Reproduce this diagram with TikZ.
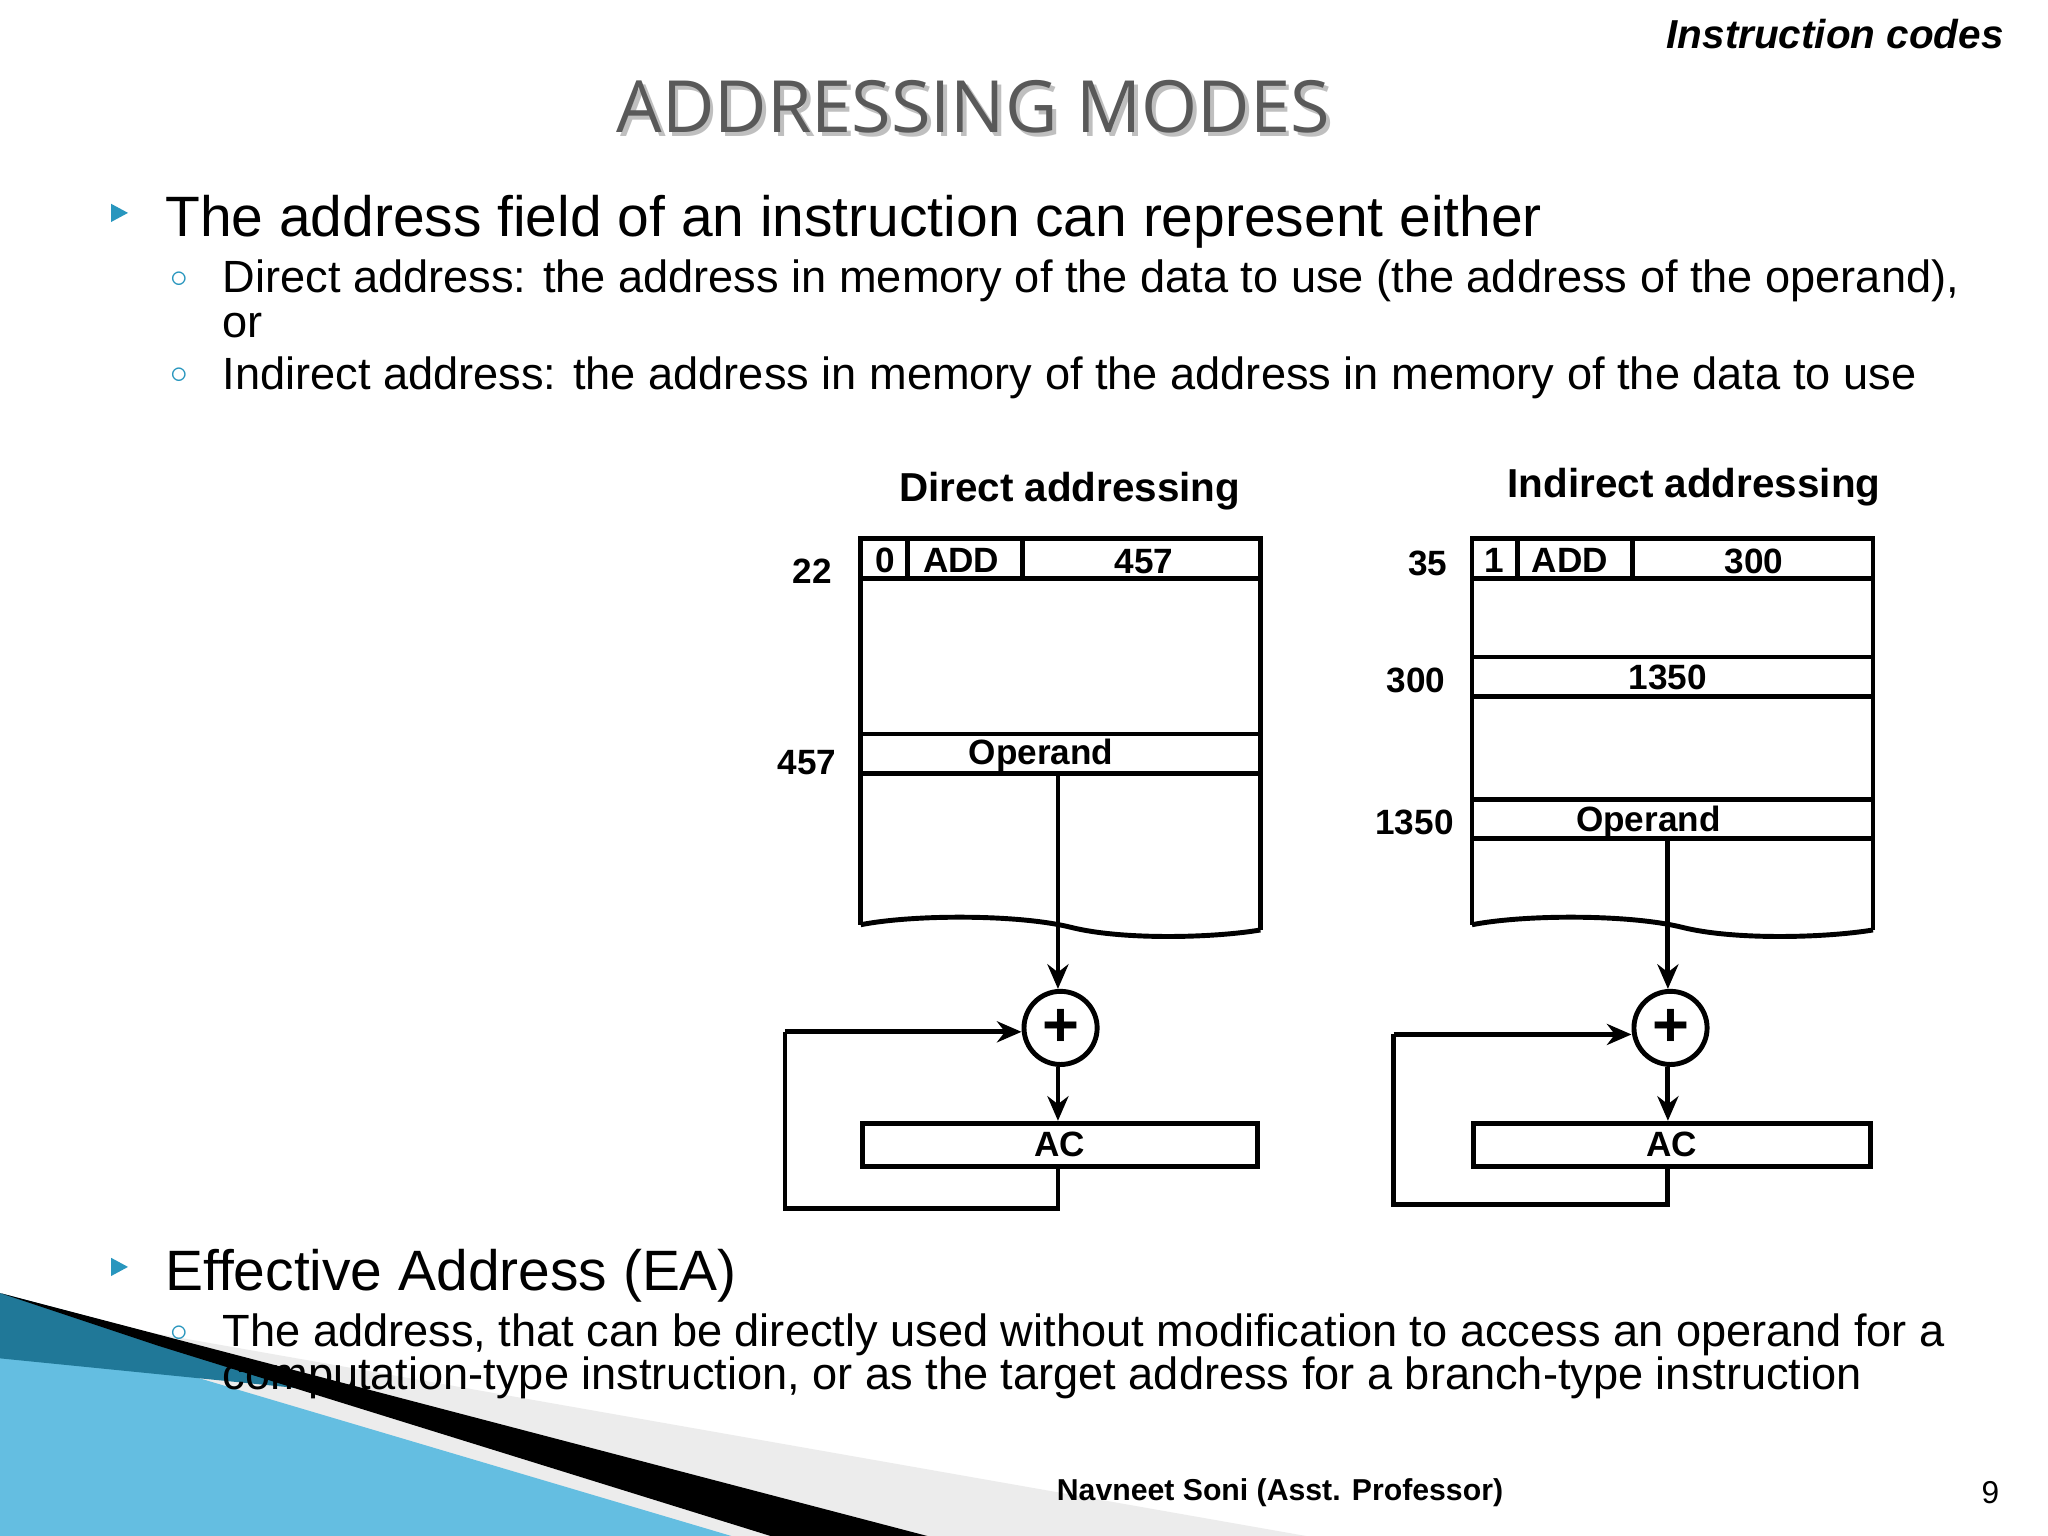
\documentclass[tikz,border=0pt]{standalone}
\usepackage{fontspec}
\setmainfont{Liberation Sans}
\newfontfamily\titlefont{Open Sans}
\usetikzlibrary{arrows.meta}
\definecolor{teal1}{RGB}{40,150,190}
\definecolor{sky}{RGB}{100,190,225}
\tikzset{
 ln/.style={line width=1.4pt},
 lbl/.style={font=\bfseries\fontsize{10}{12}\selectfont},
 arr/.style={ln,-{Stealth[length=7pt,width=6pt]}},
 bul/.style={fill=teal1,draw=none},
 big/.style={anchor=west,font=\fontsize{16.2}{19}\selectfont,inner sep=0pt},
 sub/.style={anchor=west,font=\fontsize{12.85}{15}\selectfont,inner sep=0pt},
}
\begin{document}
\begin{tikzpicture}[x=0.013061cm,y=-0.013061cm]
\useasboundingbox (0,0) rectangle (1568,1176);
\fill[white] (0,0) rectangle (1568,1176);
% decoration bottom-left
\fill[gray!15] (0,1000) -- (1000,1176) -- (0,1176) -- cycle;
\fill[sky] (0,1010) -- (560,1176) -- (0,1176) -- cycle;
\fill[teal1!80!black] (0,990) -- (300,1070) -- (0,1040) -- cycle;
\fill[black] (0,990) -- (710,1176) -- (590,1176) -- (120,1030) -- cycle;
% header
\node[font=\bfseries\itshape\fontsize{11.5}{14}\selectfont] (hdr) at (1405,26) {Instruction codes};
\node[font=\titlefont\fontsize{20.5}{26}\selectfont,text=black!25] (tsh) at (748,85) {ADDRESSING MODES};
\node[font=\titlefont\fontsize{20.5}{26}\selectfont,text=black!65] (title) at (745,82) {ADDRESSING MODES};
% bullets
\fill[bul] (85,156) -- (98,163) -- (85,170) -- cycle;
\node[big] (b1) at (126,170) {The address field of an instruction can represent either};
\node[font=\fontsize{10}{12}\selectfont,text=teal1] (c1) at (137,214) {$\circ$};
\node[sub] (s1) at (170,215) {Direct address: the address in memory of the data to use (the address of the operand),};
\node[sub] (s1b) at (170,249) {or};
\node[font=\fontsize{10}{12}\selectfont,text=teal1] (c2) at (137,288) {$\circ$};
\node[sub] (s2) at (170,289) {Indirect address: the address in memory of the address in memory of the data to use};
\fill[bul] (85,963) -- (98,970) -- (85,977) -- cycle;
\node[big] (b2) at (126,977) {Effective Address (EA)};
\node[font=\fontsize{10}{12}\selectfont,text=teal1] (c3) at (137,1021) {$\circ$};
\node[sub] (s3) at (170,1022) {The address, that can be directly used without modification to access an operand for a};
\node[sub] (s3b) at (170,1055) {computation-type instruction, or as the target address for a branch-type instruction};
% footer
\node[font=\bfseries\fontsize{8.6}{11}\selectfont] (ft) at (980,1143) {Navneet Soni (Asst. Professor)};
\node[font=\fontsize{9}{11}\selectfont] (pg) at (1524,1143) {9};
% ===== Direct
\node[font=\bfseries\fontsize{11.5}{14}\selectfont] (dt) at (819,376) {Direct addressing};
\draw[ln] (659,708) -- (659,412) -- (965,412) -- (965,712);
\draw[ln] (659,443) -- (965,443);
\draw[ln] (695,412) -- (695,443); \draw[ln] (783,412) -- (783,443);
\draw[ln] (659,562) -- (965,562); \draw[ln] (659,592) -- (965,592);
\draw[ln] (659,708) .. controls (700,700) and (780,700) .. (820,710) .. controls (860,720) and (930,718) .. (965,712);
\node[lbl] (d0) at (678,429) {0};
\node[lbl] (dadd) at (736,429) {ADD};
\node[lbl] (d457) at (876,430) {457};
\node[lbl] (dop) at (797,578) {Operand};
\node[lbl] (l22) at (622,437) {22};
\node[lbl] (l457) at (618,584) {457};
\coordinate (dtop) at (810,592);
\node[circle,draw,ln,minimum size=56*0.013061cm,inner sep=0pt,font=\bfseries\fontsize{18}{18}\selectfont] (dplus) at (812,787) {+};
\node[draw,ln,minimum width=303*0.013061cm,minimum height=33*0.013061cm,inner sep=0pt,lbl] (dac) at (811.5,876.5) {AC};
\draw[arr] (dtop) -- (dplus.north -| dtop);
\draw[arr] (dplus.south -| dtop) -- (dac.north -| dtop);
\coordinate (dfb1) at (810,925); \coordinate (dfb2) at (601,925); \coordinate (dfb3) at (601,790);
\draw[ln] (dac.south -| dtop) -- (dfb1) -- (dfb2) -- (dfb3);
\draw[arr] (dfb3) -- (dplus.west |- dfb3);
% ===== Indirect
\node[font=\bfseries\fontsize{11.5}{14}\selectfont] (it) at (1297,373) {Indirect addressing};
\draw[ln] (1127,708) -- (1127,412) -- (1434,412) -- (1434,712);
\draw[ln] (1127,443) -- (1434,443);
\draw[ln] (1162,412) -- (1162,443); \draw[ln] (1250,412) -- (1250,443);
\draw[ln] (1127,503) -- (1434,503); \draw[ln] (1127,533) -- (1434,533);
\draw[ln] (1127,612) -- (1434,612); \draw[ln] (1127,642) -- (1434,642);
\draw[ln] (1127,708) .. controls (1168,700) and (1248,700) .. (1288,710) .. controls (1328,720) and (1398,718) .. (1434,712);
\node[lbl] (i1) at (1144,429) {1};
\node[lbl] (iadd) at (1202,429) {ADD};
\node[lbl] (i300) at (1343,430) {300};
\node[lbl] (i1350) at (1277,519) {1350};
\node[lbl] (iop) at (1262,630) {Operand};
\node[lbl] (l35) at (1093,431) {35};
\node[lbl] (l300) at (1084,521) {300};
\node[lbl] (l1350) at (1083,630) {1350};
\coordinate (itop) at (1277,642);
\node[circle,draw,ln,minimum size=56*0.013061cm,inner sep=0pt,font=\bfseries\fontsize{18}{18}\selectfont] (iplus) at (1279,787) {+};
\node[draw,ln,minimum width=304*0.013061cm,minimum height=33*0.013061cm,inner sep=0pt,lbl] (iac) at (1280,876.5) {AC};
\draw[arr] (itop) -- (iplus.north -| itop);
\draw[arr] (iplus.south -| itop) -- (iac.north -| itop);
\coordinate (ifb1) at (1277,922); \coordinate (ifb2) at (1067,922); \coordinate (ifb3) at (1067,792);
\draw[ln] (iac.south -| itop) -- (ifb1) -- (ifb2) -- (ifb3);
\draw[arr] (ifb3) -- (iplus.west |- ifb3);
\end{tikzpicture}
\end{document}
